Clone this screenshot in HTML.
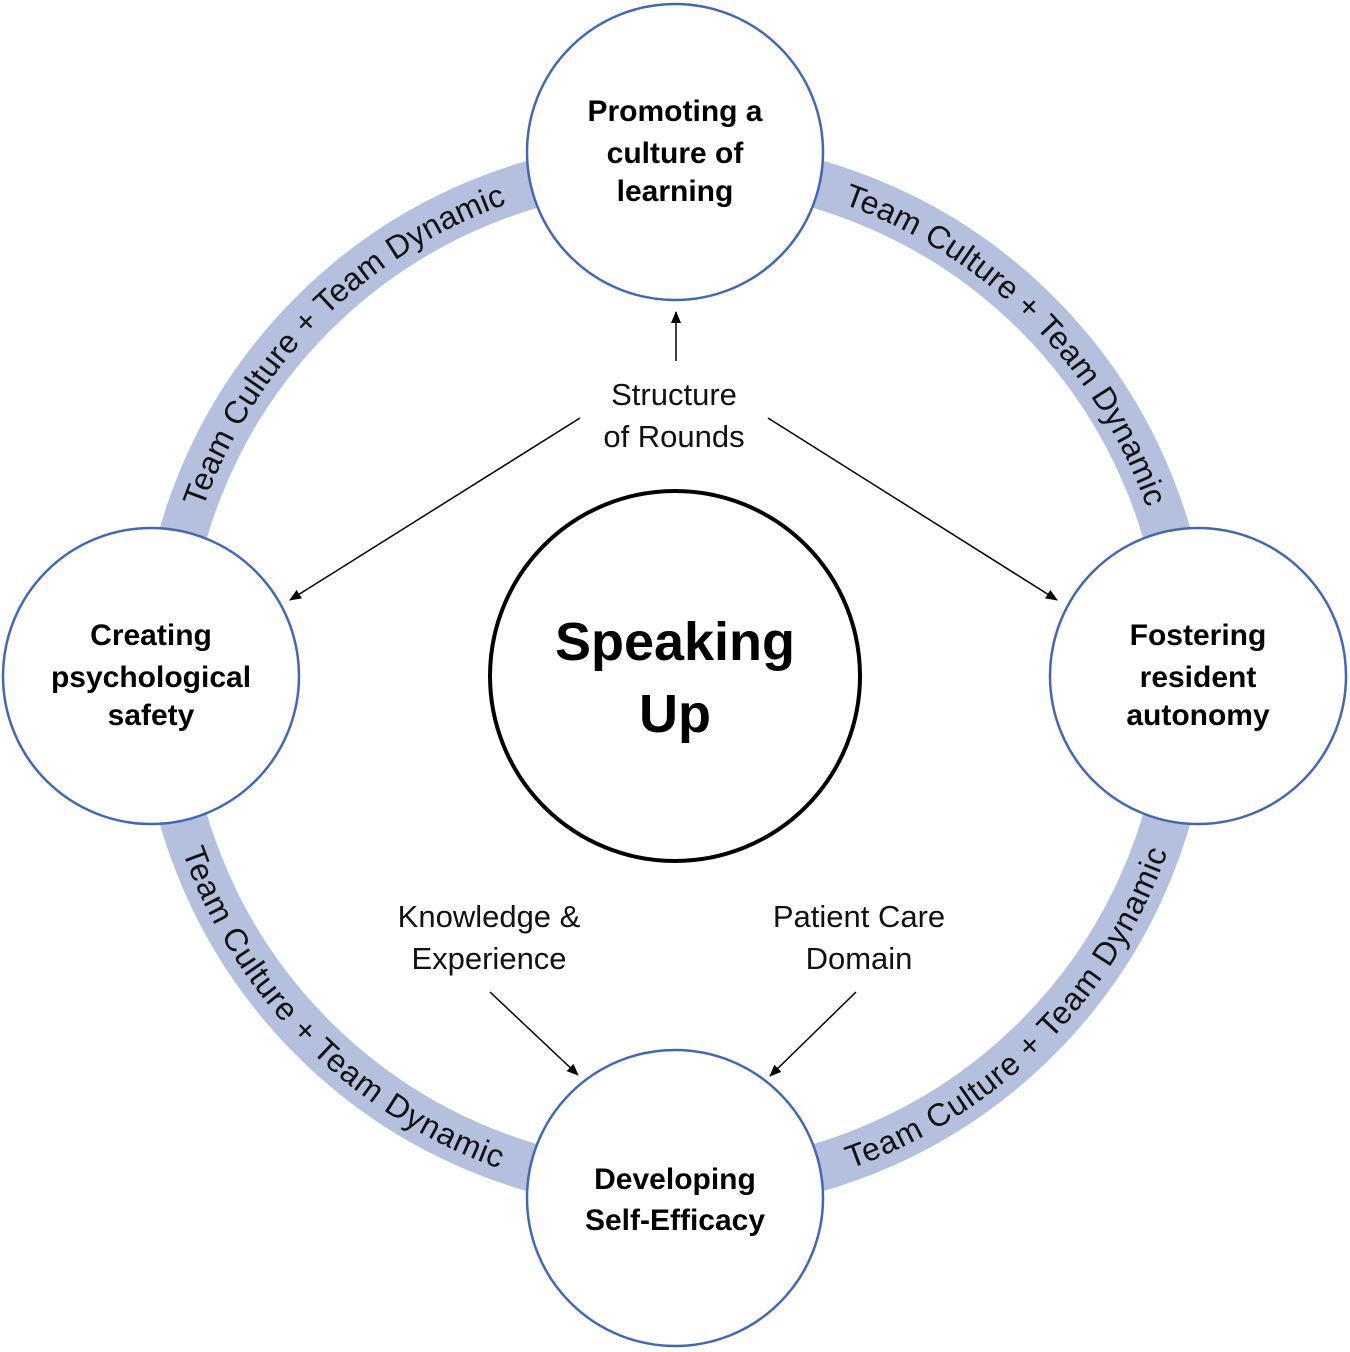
<!DOCTYPE html>
<html><head><meta charset="utf-8"><style>
html,body{margin:0;padding:0;background:#fff;}
svg{display:block;font-family:"Liberation Sans",sans-serif;}
</style></head><body>
<svg width="1350" height="1352" viewBox="0 0 1350 1352" xmlns="http://www.w3.org/2000/svg">
<defs>
<marker id="ah" markerWidth="12" markerHeight="10" refX="11" refY="5" orient="auto" markerUnits="userSpaceOnUse">
<path d="M0,0 L12,5 L0,10 z" fill="#000"/></marker>
<path id="tl" d="M 163 676 A 512 512 0 0 1 675 164"/>
<path id="tr" d="M 675 164 A 512 512 0 0 1 1187 676"/>
<path id="bl" d="M 163 676 A 512 512 0 0 0 675 1188"/>
<path id="br" d="M 675 1188 A 512 512 0 0 0 1187 676"/>
</defs>
<circle cx="675" cy="676" r="512" fill="none" stroke="#b4c0de" stroke-width="48"/>
<g font-size="32" fill="#111" letter-spacing="0.6">
<text dominant-baseline="central"><textPath href="#tl" startOffset="50%" text-anchor="middle">Team Culture + Team Dynamic</textPath></text>
<text dominant-baseline="central"><textPath href="#tr" startOffset="50%" text-anchor="middle">Team Culture + Team Dynamic</textPath></text>
<text dominant-baseline="central"><textPath href="#bl" startOffset="50%" text-anchor="middle">Team Culture + Team Dynamic</textPath></text>
<text dominant-baseline="central"><textPath href="#br" startOffset="50%" text-anchor="middle">Team Culture + Team Dynamic</textPath></text>
</g>
<g fill="#fff" stroke="#4468b0" stroke-width="2.5">
<circle cx="675" cy="152" r="148"/>
<circle cx="151" cy="676" r="148"/>
<circle cx="1198" cy="676" r="148"/>
<circle cx="675" cy="1198" r="148"/>
</g>
<circle cx="675" cy="676" r="185" fill="#fff" stroke="#000" stroke-width="4"/>
<g font-weight="bold" font-size="30" text-anchor="middle" fill="#000">
<text x="675" y="121">Promoting a</text>
<text x="675" y="163">culture of</text>
<text x="675" y="201">learning</text>
<text x="151" y="645">Creating</text>
<text x="151" y="687">psychological</text>
<text x="151" y="725">safety</text>
<text x="1198" y="645">Fostering</text>
<text x="1198" y="687">resident</text>
<text x="1198" y="725">autonomy</text>
<text x="675" y="1189">Developing</text>
<text x="675" y="1230">Self-Efficacy</text>
<text x="675" y="660" font-size="54">Speaking</text>
<text x="675" y="732" font-size="54">Up</text>
</g>
<g font-size="31" text-anchor="middle" fill="#111">
<text x="674" y="405">Structure</text>
<text x="674" y="447">of Rounds</text>
<text x="489" y="927">Knowledge &amp;</text>
<text x="489" y="969">Experience</text>
<text x="859" y="927">Patient Care</text>
<text x="859" y="969">Domain</text>
</g>
<g stroke="#000" stroke-width="1.5" marker-end="url(#ah)">
<line x1="676" y1="361" x2="676" y2="312"/>
<line x1="580" y1="418" x2="290" y2="600"/>
<line x1="768" y1="418" x2="1057" y2="600"/>
<line x1="490" y1="992" x2="578" y2="1075"/>
<line x1="856" y1="992" x2="770" y2="1076"/>
</g>
</svg>
</body></html>
